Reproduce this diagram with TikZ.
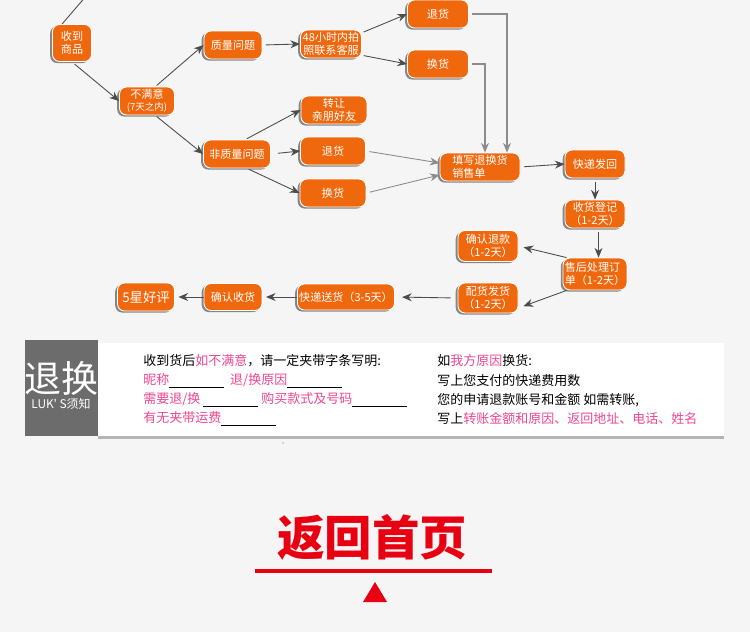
\documentclass[tikz,border=0pt]{standalone}
\usepackage{fontspec}
\usepackage{tikz}
\usetikzlibrary{arrows.meta,shapes,positioning,shadows}
\newfontfamily\cjk{Noto Sans CJK SC}
\definecolor{boxorange}{RGB}{240,104,14}
\definecolor{pinktext}{RGB}{236,72,146}
\definecolor{panelgray}{RGB}{108,108,108}
\definecolor{bgpaper}{RGB}{245,245,245}
\definecolor{backred}{RGB}{232,0,18}
\newcommand{\pk}[1]{\textcolor{pinktext}{#1}}
\newcommand{\blank}{\underline{\hspace{1.1cm}}}

\begin{document}
\begin{tikzpicture}
			[x=0.02cm, y=-0.02cm, >={Stealth[length=5.5pt,width=4.5pt]},
			box/.style={rectangle, rounded corners=4pt, fill=boxorange, draw=white, line width=0.5pt,
				text=white, font=\cjk\fontsize{6.3}{7.6}\selectfont, align=center,
				minimum width=1.2cm, minimum height=0.56cm, inner sep=1pt,
				drop shadow={shadow xshift=-1.3pt, shadow yshift=-0.9pt, fill=black!55, opacity=0.85}},
			link/.style={->, draw=black!70, line width=0.5pt},
			notetext/.style={font=\cjk\fontsize{7.4}{11}\selectfont, anchor=west, inner sep=0pt},]
			\useasboundingbox (0,0) rectangle (750,632);
			\fill[bgpaper] (0,0) rectangle (750,632);

			% flow chart
          	\node[box, minimum width=0.78cm, minimum height=0.74cm] (shou) at (72,43) {收到\\商品};
          	\node[box, minimum width=1.1cm] (buman) at (147,101) {不满意\\[-1pt]{\fontsize{5.4}{6}\selectfont (7天之内)}};
          	\node[box, minimum width=1.16cm] (zhiliang) at (233,45) {质量问题};
          	\node[box, minimum width=1.22cm] (paizhao) at (331,44) {48小时内拍\\照联系客服};
          	\node[box, minimum width=1.32cm] (zhuanrang) at (334,110) {转让\\亲朋好友};
          	\node[box, minimum width=1.34cm] (feizhiliang) at (237,154) {非质量问题};
          	\node[box, minimum width=1.3cm] (tuiB) at (333,151) {退货};
          	\node[box, minimum width=1.32cm] (huanB) at (333,193) {换货};
          	\node[box, minimum width=1.22cm] (tuiA) at (438,14) {退货};
          	\node[box, minimum width=1.22cm] (huanA) at (438,64) {换货};
          	\node[box, minimum width=1.6cm, align=left] (tianxie) at (480,167) {填写退换货\\销售单};
          	\node[box] (fahui) at (595,164) {快递发回};
          	\node[box] (dengji) at (595,214) {收货登记\\（1-2天）};
          	\node[box, minimum height=0.62cm] (tuikuan) at (488,246) {确认退款\\（1-2天）};
          	\node[box, minimum height=0.64cm, align=left] (shouhou) at (595,274) {售后处理订\\单（1-2天）};
          	\node[box, minimum height=0.6cm] (peihuo) at (488,298) {配货发货\\（1-2天）};
          	\node[box, minimum width=1.84cm, minimum height=0.52cm] (songhuo) at (346,297) {快递送货（3-5天）};
          	\node[box, minimum width=1.16cm, minimum height=0.54cm] (shouhuo) at (233,297) {确认收货};
          	\node[box, minimum width=1.14cm, font=\cjk\fontsize{7.6}{8}\selectfont] (haoping) at (146,297) {5星好评};
          	\coordinate (topin) at (87,-5);

            \draw[draw=black!70, line width=0.5pt] (topin) -- ([xshift=0.2cm]shou.north west);
            \draw[link, shorten <=2pt] (shou.south) -- (buman.west);
            \draw[link, shorten <=1pt] (buman.60) -- (zhiliang.west);
            \draw[link, shorten <=1pt] (buman.-60) -- (feizhiliang.west);
            \draw[link, shorten <=2pt] (zhiliang.east) -- (paizhao.west);
            \draw[link, shorten <=1pt] (paizhao.20) -- (tuiA.west);
            \draw[link, shorten <=1pt] (paizhao.-20) -- (huanA.west);
            \draw[link, shorten <=1pt] (feizhiliang.60) -- (zhuanrang.west);
            \draw[link, shorten <=4pt] (feizhiliang.east) -- (tuiB.west);
            \draw[link, shorten <=1pt] (feizhiliang.-55) -- (huanB.west);
            \draw[link, draw=black!45, shorten <=2pt] (tuiB.east) -- ([yshift=0.08cm]tianxie.west);
            \draw[link, draw=black!45, shorten <=2pt] (huanB.east) -- ([yshift=-0.16cm]tianxie.west);
            \draw[link, draw=black!45, line width=0.7pt, shorten <=2pt] (tuiA.east) -| ([xshift=0.54cm]tianxie.north);
            \draw[link, draw=black!45, line width=0.7pt, shorten <=2pt] (huanA.east) -| ([xshift=0.1cm]tianxie.north);
            \draw[link, shorten <=2pt] (tianxie.east) -- (fahui.west);
            \draw[link, shorten <=2pt] (fahui.south) -- (dengji.north);
            \draw[link, shorten <=2pt] ([xshift=2pt]dengji.south) -- ([xshift=2pt]shouhou.north);
            \draw[link, shorten >=3pt] (shouhou.150) -- (tuikuan.east);
            \draw[link, shorten >=3pt] (shouhou.-150) -- ([yshift=-0.2cm]peihuo.east);
            \draw[link, shorten <=4pt, shorten >=4pt] (peihuo.west) -- (songhuo.east);
            \draw[link, shorten >=2pt] (songhuo.west) -- (shouhuo.east);
            \draw[link, shorten >=2pt] (shouhuo.west) -- (haoping.east);

			% notice panel
			\fill[white, drop shadow={shadow xshift=0pt, shadow yshift=-1.5pt, fill=black!40, opacity=0.7}] (98,343) rectangle (724,436);
			\fill[panelgray] (25,340) rectangle (98,436);
			\node[font=\cjk\fontsize{21}{22}\selectfont, text=white, inner sep=0pt] (tuihuan) at (61,378) {退换};
			\node[font=\cjk\fontsize{6.8}{7}\selectfont, text=white, inner sep=0pt, below=1.5pt of tuihuan] (xuzhi) {LUK' S须知};
			\node[notetext] (left1) at (143,361) {收到货后\pk{如不满意}，请一定夹带字条写明:};
			\node[notetext] (left2) at (143,381) {\pk{昵称}\blank\ \ \pk{退/换原因}\blank};
			\node[notetext] (left3) at (143,400) {\pk{需要退/换} \blank\ \pk{购买款式及号码}\blank};
			\node[notetext] (left4) at (143,419) {\pk{有无夹带运费}\blank};
			\node[notetext] (right1) at (437,361) {如\pk{我方原因}换货:};
			\node[notetext] (right2) at (437,381) {写上您支付的快递费用数};
			\node[notetext] (right3) at (437,400) {您的申请退款账号和金额 如需转账,};
			\node[notetext] (right4) at (437,419) {写上\pk{转账金额和原因、返回地址、电话、姓名}};
			\fill[black!60] (283,443) circle (0.7);

			% back to home
			\node[font=\cjk\bfseries\fontsize{27}{28}\selectfont, text=backred, inner sep=0pt] (fanhui) at (372,537) {返回首页};
			\fill[backred] (255,569) rectangle (492,573);
			\fill[backred] (363,602) -- (375,582) -- (387,602) -- cycle;
			\end{tikzpicture}
\end{document}
